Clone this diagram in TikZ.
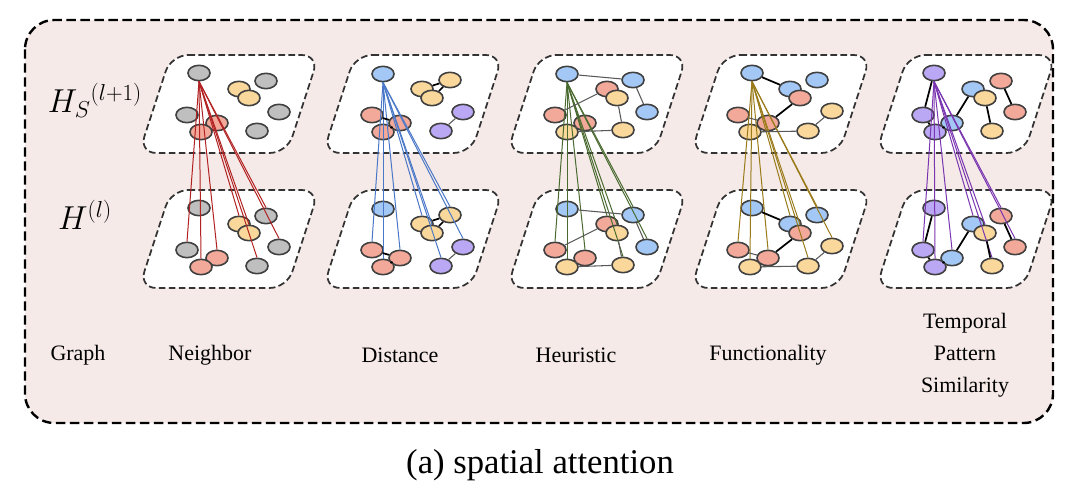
\documentclass[tikz,border=0pt]{standalone}
\usepackage{fontspec}
\setmainfont{Liberation Serif}
\usetikzlibrary{shapes.geometric}
\definecolor{cgray}{HTML}{BFBFBF}
\definecolor{cyel}{HTML}{FAD89B}
\definecolor{cred}{HTML}{F2A999}
\definecolor{cblu}{HTML}{A3C8F5}
\definecolor{cpur}{HTML}{BBA8F5}
\definecolor{bgp}{HTML}{F5EAE8}
\definecolor{lred}{HTML}{B22222}
\definecolor{lblu}{HTML}{4A78C8}
\definecolor{lgrn}{HTML}{4A6B30}
\definecolor{lolv}{HTML}{9A7B1A}
\definecolor{lpur}{HTML}{7A35B0}
\tikzset{
 nd/.style={ellipse, draw=black!75, line width=1.2pt, minimum width=16.5pt, minimum height=11.5pt, inner sep=0pt},
 plane/.style={draw=black!80, dash pattern=on 5pt off 2.5pt, line width=1.3pt, fill=white, rounded corners=13pt},
 k/.style={draw=black, line width=1.3pt},
 g/.style={draw=black!65, line width=0.8pt},
 att/.style={line width=0.75pt},
 lab/.style={font=\fontsize{16.5}{20}\selectfont, align=center}
}
\newcommand\myplane[2]{\path[plane] (#1-58,#2) -- (#1+90,#2) -- (#1+58,#2+98) -- (#1-90,#2+98) -- cycle;}
\newcommand\mypanel[4]{%
 \myplane{#2}{55}\myplane{#2}{190}
 \foreach \x/\y/\c/\n in {#3}{\node[nd,fill=\c] (#1t\n) at (\x,\y) {}; \node[nd,fill=\c] (#1b\n) at (\x,\y+135) {};}
 \foreach \x/\y/\c/\n in {#3}{\ifnum\n>0 \draw[att,#4] (#1t0.south) -- (#1b\n.north);\fi}
}
\newcommand\pedge[4]{\draw[#4] (#1t#2) -- (#1t#3); \draw[#4] (#1b#2) -- (#1b#3);}
\begin{document}
\begin{tikzpicture}[x=0.75pt,y=-0.75pt]
\useasboundingbox (0,0) rectangle (1080,495);
\draw[fill=bgp, dash pattern=on 7pt off 3.5pt, line width=1.8pt, rounded corners=22pt] (25,20) rectangle (1053,423);
\node at (95,100) {\fontsize{27}{30}\selectfont $H_S{}^{(l+1)}$};
\node at (85,215) {\fontsize{27}{30}\selectfont $H^{(l)}$};
% panel 1
\mypanel{a}{229}{199/73/cgray/0,239/89/cyel/1,249/98/cyel/2,266/81/cgray/3,279/112/cgray/4,187/115/cgray/5,217/123/cred/6,201/132/cred/7,257/131/cgray/8}{lred}
% panel 2
\mypanel{b}{413}{383/74/cblu/0,450/80/cyel/1,422/89/cyel/2,432/98/cyel/3,463/112/cpur/4,441/131/cpur/5,372/115/cred/6,400/123/cred/7,383/132/cred/8}{lblu}
\pedge{b}{1}{2}{k}\pedge{b}{1}{3}{k}\pedge{b}{4}{5}{g}\pedge{b}{6}{7}{k}\pedge{b}{7}{8}{k}
% panel 3
\mypanel{c}{597}{567/74/cblu/0,633/80/cblu/1,647/112/cblu/2,607/89/cred/3,617/98/cyel/4,555/115/cred/5,585/123/cred/6,567/132/cyel/7,623/130/cyel/8}{lgrn}
\pedge{c}{0}{1}{g}\pedge{c}{1}{2}{g}\pedge{c}{3}{5}{g}\pedge{c}{4}{8}{g}\pedge{c}{7}{8}{g}\pedge{c}{6}{7}{g}
% panel 4
\mypanel{d}{781}{752/73/cblu/0,817/80/cblu/1,790/89/cblu/2,800/98/cred/3,738/115/cred/4,768/123/cred/5,750/132/cyel/6,832/111/cyel/7,808/131/cyel/8}{lolv}
\pedge{d}{0}{2}{k}\pedge{d}{3}{5}{k}\pedge{d}{4}{5}{g}\pedge{d}{6}{8}{g}\pedge{d}{7}{8}{g}
% panel 5
\mypanel{e}{966}{934/73/cpur/0,973/89/cblu/1,985/98/cyel/2,1001/81/cred/3,1015/112/cred/4,923/115/cpur/5,952/123/cblu/6,935/132/cpur/7,992/131/cyel/8}{lpur}
\pedge{e}{3}{4}{k}\pedge{e}{2}{8}{k}\pedge{e}{1}{6}{k}\pedge{e}{0}{5}{k}\pedge{e}{5}{7}{k}\pedge{e}{6}{7}{k}
% labels
\node[lab] at (78,355) {Graph};
\node[lab] at (210,355) {Neighbor};
\node[lab] at (400,355) {Distance};
\node[lab] at (576,355) {Heuristic};
\node[lab] at (768,355) {Functionality};
\node[lab] at (965,355) {Temporal\\[4pt]Pattern\\[4pt]Similarity};
\node at (540,465) {\fontsize{26}{30}\selectfont (a) spatial attention};
\end{tikzpicture}
\end{document}
